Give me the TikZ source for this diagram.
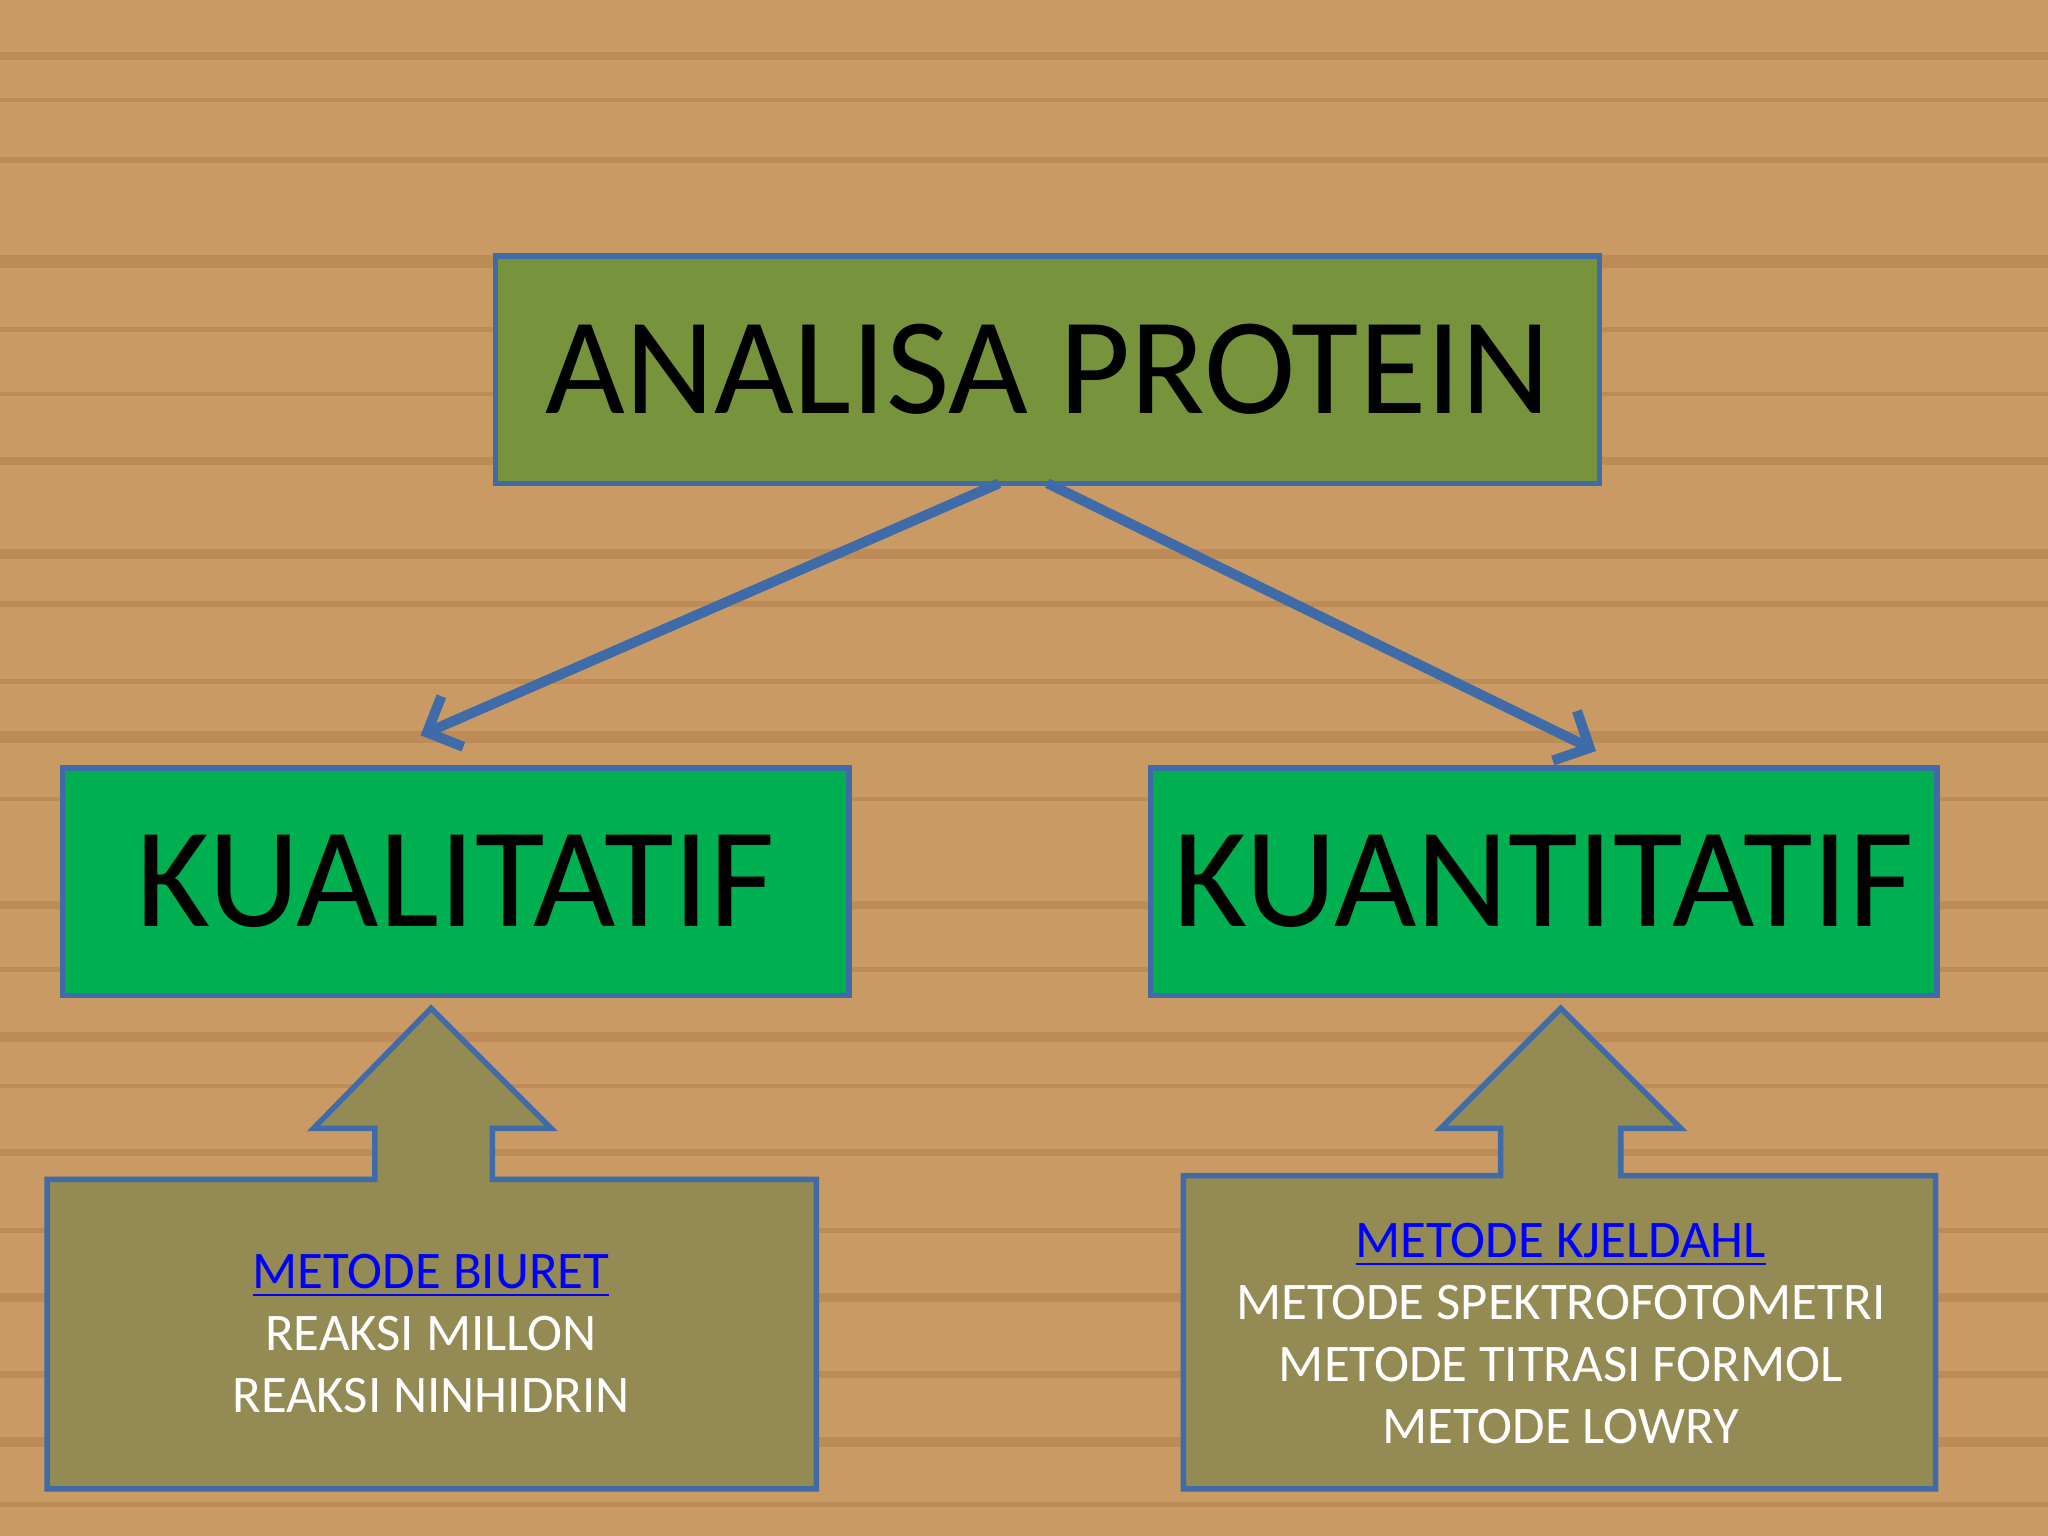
\documentclass[tikz,border=0pt]{standalone}
\usepackage{fontspec}
\setmainfont{Carlito}
\usepackage{xcolor}
\definecolor{wood}{HTML}{C99A63}
\definecolor{woodDark}{HTML}{A8743F}
\definecolor{edgeBlue}{HTML}{3F6CA8}
\definecolor{topFill}{HTML}{77933C}
\definecolor{mainFill}{HTML}{00B050}
\definecolor{methodFill}{HTML}{948A54}
\newcommand{\linkText}[1]{\textcolor{blue}{\underline{#1}}}
\tikzset{
  headbox/.style={draw=edgeBlue, line width=1.2pt, fill=topFill, minimum width=8.45cm, minimum height=1.74cm, font=\fontsize{30}{36}\selectfont},
  typebox/.style={draw=edgeBlue, line width=1.2pt, fill=mainFill, minimum width=6.02cm, minimum height=1.74cm, font=\fontsize{31}{36}\selectfont},
  methodarrow/.style={draw=edgeBlue, line width=1.2pt, fill=methodFill},
  methodtext/.style={text=white, align=center, font=\fontsize{11.5}{13.5}\selectfont},
  flow/.style={draw=edgeBlue, line width=2.2pt, ->, >={Straight Barb[length=6pt,width=12pt]}}
}
\usetikzlibrary{arrows.meta}
\begin{document}
\begin{tikzpicture}[x=0.01cm, y=-0.01cm]
  % background
  \fill[wood] (0,0) rectangle (1568,1176);
  \foreach \yy/\ww in {40/6,75/3,120/5,195/10,250/4,300/3,350/6,420/8,460/5,520/4,560/9,610/3,690/6,740/4,790/8,830/3,880/5,940/4,990/7,1050/5,1100/8,1150/4}
    \fill[woodDark, opacity=0.35] (0,\yy) rectangle (1568,\yy+\ww);
  % boxes
  \node[headbox] (protein) at (802,283) {ANALISA PROTEIN};
  \node[typebox] (kual) at (349,675) {KUALITATIF};
  \node[typebox] (kuan) at (1182,675) {KUANTITATIF};
  \coordinate (protL) at (765,370);
  \coordinate (protR) at (802,370);
  \coordinate (kualTop) at (322,563);
  \coordinate (kuanTop) at (1222,575);
  \draw[flow] (protL) -- (kualTop);
  \draw[flow] (protR) -- (kuanTop);
  % method boxes with block arrows
  \draw[methodarrow] (36,903) -- (287,903) -- (287,864) -- (240,864) -- (330,772) -- (422,864) -- (377,864) -- (377,903) -- (625,903) -- (625,1140) -- (36,1140) -- cycle;
  \draw[methodarrow] (906,900) -- (1149,900) -- (1149,864) -- (1103,864) -- (1195,772) -- (1287,864) -- (1241,864) -- (1241,900) -- (1482,900) -- (1482,1140) -- (906,1140) -- cycle;
  \node[methodtext] (kualList) at (330,1021) {\linkText{METODE BIURET}\\REAKSI MILLON\\REAKSI NINHIDRIN};
  \node[methodtext] (kuanList) at (1195,1021) {\linkText{METODE KJELDAHL}\\METODE SPEKTROFOTOMETRI\\METODE TITRASI FORMOL\\METODE LOWRY};
\end{tikzpicture}
\end{document}
